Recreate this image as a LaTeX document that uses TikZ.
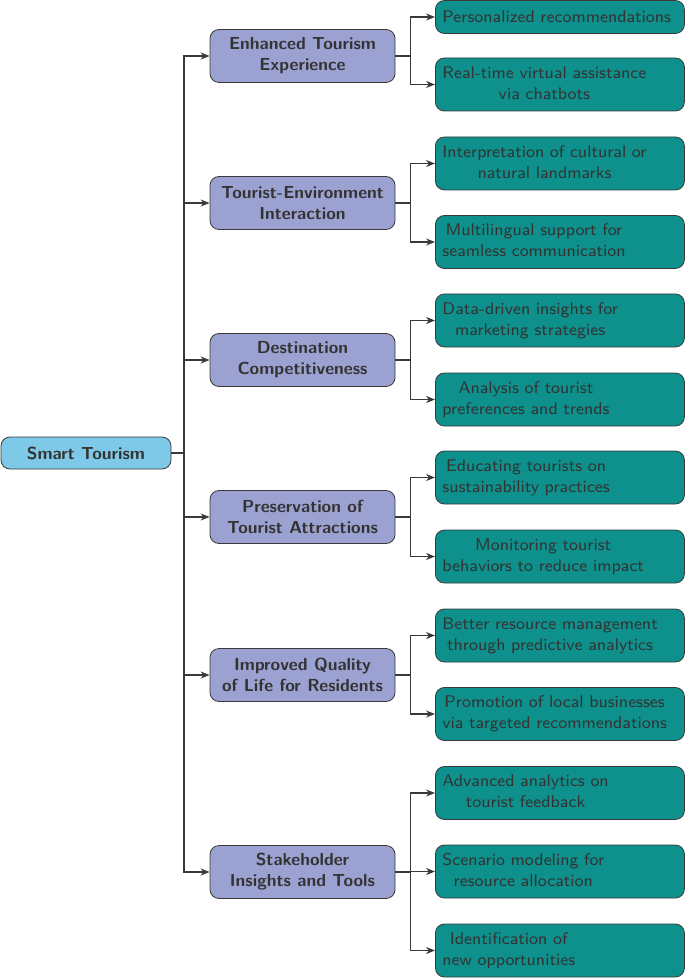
\documentclass[tikz,border=0pt]{standalone}
\usepackage{xcolor}
\usepackage{tikz}
\usetikzlibrary{arrows.meta}

\definecolor{rootblue}{HTML}{7EC8E8}
\definecolor{midlav}{HTML}{9BA1D1}
\definecolor{leafteal}{HTML}{0E918C}
\definecolor{inkgray}{HTML}{333333}
\definecolor{linegray}{HTML}{3A3A3A}

\newcommand{\leafcell}[1]{\begin{tabular}{@{}c@{}}#1\end{tabular}}

\begin{document}
\begin{tikzpicture}[
  x=0.5pt, y=-0.5pt,
  >={Stealth[length=4.5pt, width=3.5pt]},
  rootnode/.style={
    rectangle, rounded corners=4.5pt, draw=linegray, fill=rootblue,
    minimum width=85pt, minimum height=16pt, inner sep=0pt,
    font=\fontsize{8.7}{10.5}\selectfont\sffamily\bfseries, text=inkgray
  },
  midnode/.style={
    rectangle, rounded corners=4.5pt, draw=linegray, fill=midlav,
    minimum width=92.5pt, minimum height=26.5pt, inner sep=0pt,
    font=\fontsize{8.7}{10.5}\selectfont\sffamily\bfseries, text=inkgray,
    align=center
  },
  leafnode/.style={
    rectangle, rounded corners=4.5pt, draw=linegray, fill=leafteal,
    anchor=west, minimum width=124.5pt, minimum height=26.5pt,
    inner xsep=3.5pt, inner ysep=0pt, text width=117.5pt, align=left,
    font=\fontsize{8.45}{10.5}\selectfont\sffamily, text=inkgray
  },
  edge/.style={draw, ->, line width=0.6pt, linegray},
]
\useasboundingbox (0,0) rectangle (685,978);

% ============================================================
% ROOT AND SECOND LEVEL
% ============================================================
\node[rootnode] (root) at (86,453) {Smart Tourism};

\node[midnode] (enhanced)  at (302.5,56)  {Enhanced Tourism\\Experience};
\node[midnode] (interact)  at (302.5,203) {Tourist-Environment\\Interaction};
\node[midnode] (compete)   at (302.5,360) {Destination\\Competitiveness};
\node[midnode] (preserve)  at (302.5,517) {Preservation of\\Tourist Attractions};
\node[midnode] (quality)   at (302.5,675) {Improved Quality\\of Life for Residents};
\node[midnode] (insights)  at (302.5,872) {Stakeholder\\Insights and Tools};

% ============================================================
% LEAVES
% ============================================================
\node[leafnode, minimum height=16.5pt] (personal) at (435,17) {Personalized recommendations};
\node[leafnode] (virtual)   at (435,84.5)  {\leafcell{Real-time virtual assistance\\via chatbots}};
\node[leafnode] (landmark)  at (435,163.5) {\leafcell{Interpretation of cultural or\\natural landmarks}};
\node[leafnode] (multiling) at (435,242)   {\leafcell{Multilingual support for\\seamless communication}};
\node[leafnode] (datadrive) at (435,320.5) {\leafcell{Data-driven insights for\\marketing strategies}};
\node[leafnode] (prefs)     at (435,399.5) {\leafcell{Analysis of tourist\\preferences and trends}};
\node[leafnode] (educate)   at (435,477.5) {\leafcell{Educating tourists on\\sustainability practices}};
\node[leafnode] (monitor)   at (435,556.5) {\leafcell{Monitoring tourist\\behaviors to reduce impact}};
\node[leafnode] (resource)  at (435,635.5) {\leafcell{Better resource management\\through predictive analytics}};
\node[leafnode] (localbiz)  at (435,714)   {\leafcell{Promotion of local businesses\\via targeted recommendations}};
\node[leafnode] (feedback)  at (435,793)   {\leafcell{Advanced analytics on\\tourist feedback}};
\node[leafnode] (scenario)  at (435,871.5) {\leafcell{Scenario modeling for\\resource allocation}};
\node[leafnode] (opport)    at (435,950.5) {\leafcell{Identification of\\new opportunities}};

% ============================================================
% EDGES
% ============================================================
\coordinate (trunk) at (184,453);
\foreach \m in {enhanced, interact, compete, preserve, quality, insights}
  \draw[edge] (root.east) -- (trunk) |- (\m.west);

\foreach \m/\l in {enhanced/personal, enhanced/virtual,
                   interact/landmark, interact/multiling,
                   compete/datadrive, compete/prefs,
                   preserve/educate, preserve/monitor,
                   quality/resource, quality/localbiz,
                   insights/feedback, insights/scenario, insights/opport}
  \draw[edge] (\m.east) -- ++(15,0) |- (\l.west);

\end{tikzpicture}
\end{document}
